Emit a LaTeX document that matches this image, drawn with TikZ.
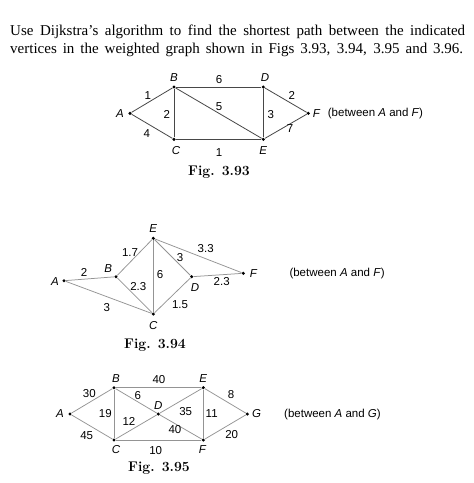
\documentclass[tikz,border=0pt]{standalone}
\usepackage{fontspec}
\newfontfamily\tnr{Liberation Serif}
\newfontfamily\lsans{Liberation Sans}
\tikzset{
  vdot/.style={circle,fill=black,inner sep=0pt,minimum size=3.4pt},
  edk/.style={draw=black!72,line width=0.8pt},
  egr/.style={draw=black!42,line width=0.75pt},
  wt/.style={font=\lsans\fontsize{11.5}{13}\selectfont,inner sep=0pt},
  vl/.style={font=\lsans\itshape\fontsize{11.5}{13}\selectfont,inner sep=0pt},
  figcap/.style={font=\bfseries\fontsize{14}{16}\selectfont,inner sep=0pt},
  note/.style={font=\lsans\fontsize{11.5}{13}\selectfont,inner sep=0pt,anchor=west}
}
\begin{document}
\begin{tikzpicture}[x=1pt,y=-1pt]
\fill[white] (0,0) rectangle (474,483);
\useasboundingbox (0,0) rectangle (474,483);
% header
\node[anchor=base west,inner sep=0pt,font=\tnr\fontsize{15}{18}\selectfont] (line1) at (10,35)
  {\hbox to 455pt{Use Dijkstra’s algorithm to find the shortest path between the indicated}};
\node[anchor=base west,inner sep=0pt,font=\tnr\fontsize{15}{18}\selectfont] (line2) at (10,53.3)
  {\hbox to 453pt{vertices in the weighted graph shown in Figs 3.93, 3.94, 3.95 and 3.96.}};

% ---------- Fig 3.93 ----------
\node[vdot] (a1) at (130,113.3) {};
\node[vdot] (b1) at (174,87) {};
\node[vdot] (d1) at (263.3,87) {};
\node[vdot] (f1) at (308.3,113.3) {};
\node[vdot] (c1) at (174,139.3) {};
\node[vdot] (e1) at (263.3,139.3) {};
\draw[edk] (a1) -- (b1);
\draw[edk] (a1) -- (c1);
\draw[edk] (b1) -- (c1);
\draw[edk] (b1) -- (d1);
\draw[edk] (b1) -- (e1);
\draw[edk] (c1) -- (e1);
\draw[edk] (d1) -- (e1);
\draw[edk] (d1) -- (f1);
\draw[edk] (e1) -- (f1);
\node[vl] (la1) at (120,113.3) {A};
\node[vl] (lb1) at (174,77.5) {B};
\node[vl] (ld1) at (265,77.5) {D};
\node[vl] (lc1) at (176,151) {C};
\node[vl] (le1) at (263.3,151) {E};
\node[vl] (lf1) at (316.5,113.3) {F};
\node[note] (n1) at (327.7,113.8) {(between \textit{A} and \textit{F})};
\node[wt] (w1ab) at (147.7,95.7) {1};
\node[wt] (w1ac) at (146.7,133.3) {4};
\node[wt] (w1bc) at (166.7,114.3) {2};
\node[wt] (w1bd) at (219,79.3) {6};
\node[wt] (w1be) at (219,106.7) {5};
\node[wt] (w1de) at (270.7,114.3) {3};
\node[wt] (w1df) at (291.7,95.7) {2};
\node[wt] (w1ef) at (290,128.3) {7};
\node[wt] (w1ce) at (219,152.3) {1};
\node[figcap] (cap1) at (219,171.7) {Fig. 3.93};

% ---------- Fig 3.94 ----------
\node[vdot] (a2) at (64,280.7) {};
\node[vdot] (b2) at (116,276.7) {};
\node[vdot] (e2) at (153.3,238.3) {};
\node[vdot] (c2) at (153.3,314) {};
\node[vdot] (d2) at (191.7,276.7) {};
\node[vdot] (f2) at (243.3,273.3) {};
\draw[egr] (a2) -- (b2);
\draw[egr] (a2) -- (c2);
\draw[egr] (b2) -- (e2);
\draw[egr] (b2) -- (c2);
\draw[egr] (e2) -- (c2);
\draw[egr] (e2) -- (d2);
\draw[egr] (e2) -- (f2);
\draw[egr] (d2) -- (c2);
\draw[egr] (d2) -- (f2);
\node[vl] (la2) at (55,281.7) {A};
\node[vl] (lb2) at (108.3,268.3) {B};
\node[vl] (le2) at (153.3,228.3) {E};
\node[vl] (lc2) at (153.3,326) {C};
\node[vl] (ld2) at (195,287.7) {D};
\node[vl] (lf2) at (253.3,274) {F};
\node[note] (n2) at (289.3,273.8) {(between \textit{A} and \textit{F})};
\node[wt] (w2ab) at (84,272.3) {2};
\node[wt] (w2ac) at (106.7,307.7) {3};
\node[wt] (w2be) at (130,252.3) {1.7};
\node[wt] (w2bc) at (138.3,286.7) {2.3};
\node[wt] (w2ec) at (160,275) {6};
\node[wt] (w2ed) at (180,257.7) {3};
\node[wt] (w2ef) at (205.7,248.3) {3.3};
\node[wt] (w2df) at (221.7,281.7) {2.3};
\node[wt] (w2dc) at (180,304.3) {1.5};
\node[figcap] (cap2) at (155,345) {Fig. 3.94};

% ---------- Fig 3.95 ----------
\node[vdot] (a3) at (70,414) {};
\node[vdot] (b3) at (114,387.7) {};
\node[vdot] (e3) at (203.3,387.7) {};
\node[vdot] (d3) at (158.3,414) {};
\node[vdot] (g3) at (247.3,414) {};
\node[vdot] (c3) at (114,440) {};
\node[vdot] (f3) at (203.3,440) {};
\draw[egr] (a3) -- (b3);
\draw[egr] (a3) -- (c3);
\draw[egr] (b3) -- (c3);
\draw[egr] (b3) -- (e3);
\draw[egr] (b3) -- (d3);
\draw[egr] (d3) -- (e3);
\draw[egr] (d3) -- (c3);
\draw[egr] (d3) -- (f3);
\draw[egr] (e3) -- (f3);
\draw[egr] (e3) -- (g3);
\draw[egr] (c3) -- (f3);
\draw[egr] (f3) -- (g3);
\node[vl] (lb3) at (116,378.3) {B};
\node[vl] (le3) at (203.3,378.3) {E};
\node[vl] (la3) at (60,414) {A};
\node[vl] (ld3) at (158.3,405.2) {D};
\node[vl] (lg3) at (256.7,414) {G};
\node[vl] (lc3) at (116,450) {C};
\node[vl] (lf3) at (202.3,450) {F};
\node[note] (n3) at (284,415) {(between \textit{A} and \textit{G})};
\node[wt] (w3ab) at (89.3,393.3) {30};
\node[wt] (w3ac) at (86.7,435.7) {45};
\node[wt] (w3bc) at (105.3,413.3) {19};
\node[wt] (w3be) at (159,379.3) {40};
\node[wt] (w3bd) at (137.7,396) {6};
\node[wt] (w3dc) at (129,421) {12};
\node[wt] (w3de) at (185.7,411.7) {35};
\node[wt] (w3df) at (175,430) {40};
\node[wt] (w3ef) at (211.7,413.3) {11};
\node[wt] (w3eg) at (231,395) {8};
\node[wt] (w3fg) at (231.7,434.3) {20};
\node[wt] (w3cf) at (155.7,451) {10};
\node[figcap] (cap3) at (159,468.3) {Fig. 3.95};
\end{tikzpicture}
\end{document}
